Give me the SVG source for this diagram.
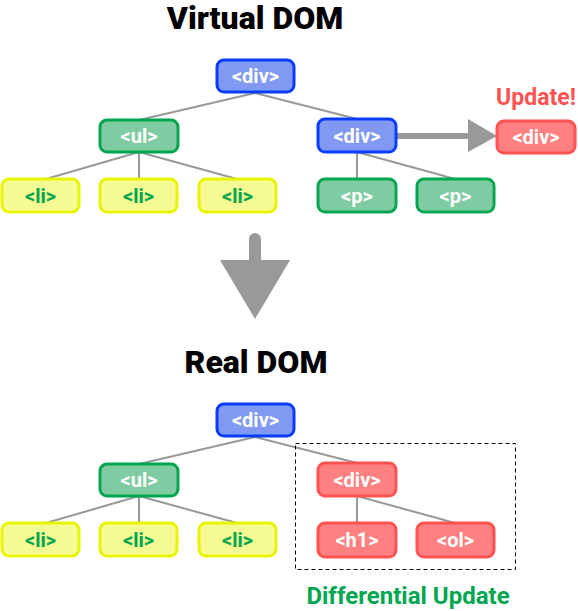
<svg xmlns="http://www.w3.org/2000/svg" width="578" height="611" viewBox="0 0 578 611">
<style>
.t{font-family:Roboto,"Liberation Sans",sans-serif;font-weight:700;font-size:20px;text-anchor:middle}
.w{fill:#fff}
.g{fill:#00a650}
.blue rect{fill:#8199f0;stroke:#0a3cff;stroke-width:3}
.green rect{fill:#80cca2;stroke:#00a650;stroke-width:3}
.yellow rect{fill:#f5fa92;stroke:#e8f500;stroke-width:3}
.red rect{fill:#ff8080;stroke:#ff5252;stroke-width:3}
.title{font-family:Roboto,"Liberation Sans",sans-serif;font-weight:900;font-size:32px;text-anchor:middle;fill:#000}
.ln{stroke:#999;stroke-width:2;fill:none}
</style>
<text class="title" x="255" y="29">Virtual DOM</text>
<text class="title" x="256" y="373">Real DOM</text>
<text x="536" y="105" style="font-family:Roboto,'Liberation Sans',sans-serif;font-weight:700;font-size:23px;text-anchor:middle;fill:#ff5252">Update!</text>
<text x="408" y="604" style="font-family:Roboto,'Liberation Sans',sans-serif;font-weight:700;font-size:24px;text-anchor:middle;fill:#00a650">Differential Update</text>
<g id="connectors">
<path class="ln" d="M255,93 L139,120 M255,93 L357,119 M139,152 L46,179 M139,152 L139,179 M139,152 L237,179 M357,152 L357,179 M357,152 L455,179"/>
<path class="ln" d="M255,437 L139,464 M255,437 L357,463 M139,496 L46,523 M139,496 L139,523 M139,496 L237,523 M357,496 L357,523 M357,496 L455,523"/>
<path d="M397,136 L470,136" stroke="#999" stroke-width="6"/>
<polygon points="468,119 497,136 468,152" fill="#999"/>
<path d="M255,239 L255,262" stroke="#999" stroke-width="12" stroke-linecap="round"/>
<polygon points="220,260 290,260 255,319" fill="#999"/>
</g>
<rect x="295.5" y="443.5" width="220" height="126" fill="none" stroke="#000" stroke-width="1" stroke-dasharray="4 3"/>
<g id="v-div" class="blue"><rect x="217" y="60" width="77" height="32" rx="7"/><text class="t w" x="255.5" y="83">&lt;div&gt;</text></g>
<g id="v-ul" class="green"><rect x="100" y="120" width="78" height="32" rx="7"/><text class="t w" x="139" y="143">&lt;ul&gt;</text></g>
<g id="v-div2" class="blue"><rect x="318" y="119" width="78" height="33" rx="7"/><text class="t w" x="357" y="143">&lt;div&gt;</text></g>
<g id="v-li1" class="yellow"><rect x="2" y="179" width="77" height="33" rx="7"/><text class="t g" x="40.5" y="203">&lt;li&gt;</text></g>
<g id="v-li2" class="yellow"><rect x="100" y="179" width="77" height="33" rx="7"/><text class="t g" x="138.5" y="203">&lt;li&gt;</text></g>
<g id="v-li3" class="yellow"><rect x="199" y="179" width="77" height="33" rx="7"/><text class="t g" x="237.5" y="203">&lt;li&gt;</text></g>
<g id="v-p1" class="green"><rect x="318" y="179" width="78" height="33" rx="7"/><text class="t w" x="357" y="203">&lt;p&gt;</text></g>
<g id="v-p2" class="green"><rect x="417" y="179" width="77" height="33" rx="7"/><text class="t w" x="455.5" y="203">&lt;p&gt;</text></g>
<g id="update-div" class="red"><rect x="497" y="121" width="78" height="32" rx="7"/><text class="t w" x="536" y="144">&lt;div&gt;</text></g>
<g id="r-div" class="blue"><rect x="217" y="404" width="77" height="32" rx="7"/><text class="t w" x="255.5" y="427">&lt;div&gt;</text></g>
<g id="r-ul" class="green"><rect x="100" y="464" width="78" height="32" rx="7"/><text class="t w" x="139" y="487">&lt;ul&gt;</text></g>
<g id="r-div2" class="red"><rect x="318" y="463" width="78" height="33" rx="7"/><text class="t w" x="357" y="487">&lt;div&gt;</text></g>
<g id="r-li1" class="yellow"><rect x="2" y="523" width="77" height="33" rx="7"/><text class="t g" x="40.5" y="547">&lt;li&gt;</text></g>
<g id="r-li2" class="yellow"><rect x="100" y="523" width="77" height="33" rx="7"/><text class="t g" x="138.5" y="547">&lt;li&gt;</text></g>
<g id="r-li3" class="yellow"><rect x="199" y="523" width="77" height="33" rx="7"/><text class="t g" x="237.5" y="547">&lt;li&gt;</text></g>
<g id="r-h1" class="red"><rect x="318" y="523" width="78" height="34" rx="7"/><text class="t w" x="357" y="547">&lt;h1&gt;</text></g>
<g id="r-ol" class="red"><rect x="417" y="523" width="77" height="34" rx="7"/><text class="t w" x="455.5" y="547">&lt;ol&gt;</text></g>
</svg>
